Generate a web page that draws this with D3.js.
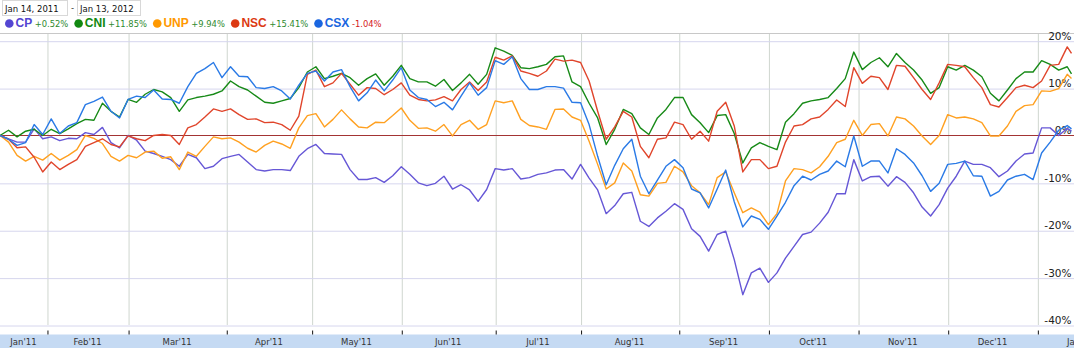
<!DOCTYPE html>
<html>
<head>
<meta charset="utf-8">
<script src="https://cdn.jsdelivr.net/npm/d3@7"></script>
<style>
body { margin: 0; background: #fff; }
svg { display: block; }
</style>
</head>
<body>
<svg id="chart" width="1074" height="348"></svg>
<script>
// period shown and the trading calendar
const startDate = "2011-01-14";
const endDate = "2012-01-13";
const holidays = ["2011-01-17", "2011-02-21", "2011-04-22", "2011-05-30", "2011-07-04",
    "2011-09-05", "2011-11-24", "2011-12-26", "2012-01-02", "2012-01-16"];
const dateLabels = ["Jan 14, 2011", "Jan 13, 2012"];

const tickers = ["CP", "CNI", "UNP", "NSC", "CSX"];
const changes = ["+0.52%", "+11.85%", "+9.94%", "+15.41%", "-1.04%"];
const yTicks = [20, 10, 0, -10, -20, -30, -40];

// % change since start, read every 2nd trading day (plus the last one)
const cpValues = [
    0, -0.7, -1.4, -1.4, 1.4, -0.7, -0.3, -1.1, -0.6, -0.7, 0.6, 0.2, 1.7, -1.5, -2.6, 0, -1.0, -3.3, -3.8, -4.4, -5.1, -6.5, -4.0, -4.7, -7.0, -6.5, -4.9, -4.4, -4.0, -5.6, -7.2, -7.5,
    -7.2, -7.2, -7.4, -4.4, -2.8, -1.9, -3.8, -3.9, -4.0, -7.2, -9.3, -9.3, -8.9, -9.9, -8.5, -6.6, -8.2, -10.0, -10.6, -10.1, -8.6, -11.3, -10.4, -11.5, -13.9, -11.4, -7.0, -7.3, -7.0, -9.2, -8.9, -8.2,
    -7.9, -7.3, -7.2, -9.2, -6.1, -9.0, -11.5, -16.5, -14.8, -12.3, -12.0, -18.1, -19.2, -17.4, -16.0, -14.4, -15.6, -19.7, -21.3, -24.4, -20.9, -20.2, -26.2, -33.6, -29.0, -28.0, -31.0, -29.0, -25.9, -23.4, -20.9,
    -20.4, -18.5, -16.2, -12.3, -12.3, -5.1, -9.6, -8.7, -8.6, -10.7, -8.7, -9.9, -12.1, -15.1, -17.0, -14.6, -11.1, -8.6, -5.4, -6.1, -6.1, -6.8, -8.7, -7.5, -5.4, -3.9, -3.7, 1.6, 1.6, 0, 1.5, 0.9
];
const cniValues = [
    0, 1.1, -0.3, 0.9, 1.3, 0, 1.3, 0.4, 1.4, 2.5, 3.4, 3.2, 6.8, 5.1, 3.9, 7.6, 7.0, 8.7, 9.7, 9.2, 8.0, 5.1, 7.5, 8.0, 8.3, 8.7, 9.4, 11.5, 10.3, 9.6, 8.3, 7.0,
    6.8, 7.3, 7.8, 10.1, 13.4, 14.5, 12.0, 12.5, 13.1, 12.2, 10.6, 12.0, 13.0, 10.6, 12.5, 14.8, 12.0, 11.3, 11.3, 10.4, 11.8, 9.5, 11.1, 12.9, 10.8, 12.9, 18.5, 17.8, 16.9, 14.3, 14.1, 14.5,
    15.0, 16.6, 16.8, 11.3, 10.3, 6.8, 3.7, -1.9, 1.3, 5.5, 4.6, 1.6, 0.2, 3.7, 5.5, 8.0, 8.0, 4.4, 2.7, 0.6, 4.2, 4.4, 0.4, -5.8, -2.6, -1.5, -2.3, -3.0, 2.8, 4.6, 6.8,
    7.3, 7.6, 8.0, 9.9, 12.0, 17.6, 13.9, 15.4, 16.4, 14.5, 17.3, 15.4, 13.8, 11.7, 8.9, 10.1, 14.5, 13.8, 14.8, 13.8, 12.4, 8.9, 7.3, 9.6, 12.0, 13.4, 13.4, 15.8, 15.0, 13.8, 14.5, 13.0
];
const unpValues = [
    0, -1.4, -4.2, -5.4, -4.4, -5.2, -3.8, -5.2, -4.2, -3.0, 0, -0.6, -1.7, -4.4, -5.4, -4.2, -4.7, -3.5, -3.3, -4.8, -4.5, -7.2, -3.5, -4.4, -2.3, -0.3, -0.7, -0.5, -1.4, -2.7, -3.5, -2.1,
    -1.2, -1.8, -2.7, 1.6, 4.2, 4.6, 1.8, 3.4, 5.4, 3.5, 1.8, 1.6, 2.8, 2.7, 4.2, 5.8, 3.2, 1.5, 1.6, 0.9, 2.3, -0.1, 2.3, 3.2, 1.3, 2.3, 7.3, 6.9, 7.3, 3.4, 2.1, 1.8,
    1.3, 5.5, 5.6, 3.9, 3.2, -1.2, -6.1, -11.3, -10.0, -5.8, -7.5, -12.5, -12.8, -10.1, -9.9, -6.5, -7.7, -10.6, -12.1, -14.6, -8.9, -7.7, -12.1, -16.3, -15.3, -16.2, -18.8, -16.5, -9.6, -7.0, -7.2,
    -7.9, -6.6, -4.4, -1.5, -0.8, 3.2, 0, 2.3, 2.5, -0.1, 3.9, 3.5, 2.0, -0.1, -1.9, 0, 4.4, 3.7, 3.9, 3.5, 2.7, -0.1, -0.1, 2.0, 5.1, 6.3, 6.5, 9.4, 9.3, 9.9, 12.9, 12.0
];
const nscValues = [
    0, -0.8, -2.6, -2.4, -4.6, -7.7, -5.6, -7.2, -6.1, -5.1, -2.3, -1.5, -0.7, -1.9, -2.4, -0.1, -0.7, -1.1, 0, 0.2, 0, -1.9, 1.6, 2.3, 3.9, 5.6, 5.1, 5.6, 4.4, 3.4, 3.5, 2.7,
    2.8, 2.3, 1.1, 4.1, 12.9, 13.8, 10.3, 11.1, 13.1, 10.8, 8.5, 10.1, 9.9, 8.6, 9.7, 11.1, 8.5, 7.6, 7.3, 7.5, 8.2, 7.3, 9.7, 11.3, 9.5, 11.3, 16.5, 15.9, 16.8, 13.6, 13.1, 12.5,
    13.6, 16.1, 15.7, 15.9, 15.4, 11.5, 5.1, -0.8, 1.8, 5.1, 3.9, -2.3, -4.7, -0.8, -0.5, 2.8, 2.3, -0.8, 0.9, -1.2, 5.1, 7.0, 2.0, -7.7, -5.1, -5.1, -7.0, -6.5, -1.4, 2.0, 2.3,
    3.5, 3.9, 5.5, 7.5, 6.1, 14.3, 11.0, 12.5, 12.2, 9.7, 14.8, 14.6, 12.2, 9.7, 7.6, 11.1, 15.0, 14.8, 14.5, 12.2, 10.1, 6.5, 6.0, 8.0, 10.1, 10.6, 10.1, 11.5, 14.8, 15.0, 18.7, 17.3
];
const csxValues = [
    0, -0.8, -2.1, -1.5, 2.3, 0.2, 3.5, 0.4, 2.0, 2.7, 6.5, 7.2, 8.1, 5.1, 3.7, 7.6, 8.3, 8.0, 9.6, 7.7, 7.6, 6.8, 10.3, 13.1, 14.1, 15.4, 12.2, 14.5, 12.5, 12.4, 10.1, 9.9,
    10.3, 9.4, 7.7, 10.6, 13.1, 13.6, 11.5, 13.4, 13.9, 10.3, 7.3, 9.0, 11.7, 9.4, 11.7, 14.3, 9.6, 8.0, 7.6, 6.1, 7.0, 5.4, 8.3, 11.1, 8.5, 10.1, 15.8, 15.0, 16.6, 12.0, 9.7, 9.7,
    10.3, 10.3, 10.0, 7.0, 6.9, 2.3, -4.4, -10.4, -6.3, -2.8, -0.8, -8.6, -12.3, -9.4, -6.5, -5.1, -6.8, -11.3, -12.1, -15.3, -11.3, -7.3, -14.0, -19.3, -17.0, -17.7, -19.8, -17.0, -14.1, -10.6, -8.6,
    -9.4, -8.2, -7.5, -5.4, -6.6, -0.1, -6.5, -5.4, -5.4, -7.9, -2.8, -4.0, -5.8, -8.5, -11.8, -10.1, -6.1, -5.9, -5.4, -8.5, -8.6, -12.8, -11.8, -9.4, -8.6, -8.2, -9.3, -3.7, -1.4, 1.1, 2.1, 1.4
];

const seriesValues = [cpValues, cniValues, unpValues, nscValues, csxValues];
const lineColors = ["#6657d6", "#178a17", "#ffa020", "#e0452b", "#2a7ae6"];
const nameColors = ["#5446d2", "#118811", "#ff9900", "#dc3912", "#1a66e0"];

const width = 1074;
const fmt = d3.timeFormat("%Y-%m-%d");

// trading days (weekdays minus exchange holidays), a bit wider than the period for month labels
const allDays = d3.timeDay.range(new Date(2011, 0, 3), new Date(2012, 1, 2))
    .filter(d => d.getDay() !== 0 && d.getDay() !== 6 && !holidays.includes(fmt(d)));
const startIdx = allDays.findIndex(d => fmt(d) === startDate);
const endIdx = allDays.findIndex(d => fmt(d) === endDate);
const lastDay = endIdx - startIdx;
const dayIndex = date => allDays.findIndex(d => d >= date) - startIdx;

const sampleDays = d3.range(0, lastDay + 1, 2);
if (sampleDays[sampleDays.length - 1] !== lastDay) sampleDays.push(lastDay);

const svg = d3.select("#chart");
const plotTop = 34, plotBottom = 325;

const x = d3.scaleLinear().domain([0, lastDay]).range([0, 1071.5]);
const y = d3.scaleLinear().domain([-40, 20]).range([plotBottom, 40.7]);

// header: date range boxes
const header = svg.append("g");
[[2.5, 65], [77.5, 63]].forEach(([bx, bw], i) => {
    header.append("rect")
        .attr("x", bx).attr("y", 0.5).attr("width", bw).attr("height", 15)
        .attr("fill", "#fff").attr("stroke", "#d8d8d8");
    header.append("text")
        .attr("x", bx + 2.5).attr("y", 11.5)
        .style("font", "8.5px 'DejaVu Sans'").attr("fill", "#111")
        .text(dateLabels[i]);
});
header.append("text")
    .attr("x", 72.5).attr("y", 11)
    .attr("text-anchor", "middle")
    .style("font", "8.5px 'DejaVu Sans'").attr("fill", "#333")
    .text("-");

// legend
const legend = svg.append("g");
let lx = 5;
tickers.forEach((t, i) => {
    legend.append("circle")
        .attr("cx", lx + 4.3).attr("cy", 23.5).attr("r", 4.3)
        .attr("fill", nameColors[i]);
    const name = legend.append("text")
        .attr("x", lx + 10.5).attr("y", 27)
        .style("font", "bold 12px 'Liberation Sans'")
        .attr("fill", nameColors[i])
        .text(t);
    const nx = lx + 10.5 + name.node().getComputedTextLength() + 2.5;
    const pct = legend.append("text")
        .attr("x", nx).attr("y", 27)
        .style("font", "8.4px 'DejaVu Sans'")
        .attr("fill", changes[i].startsWith("-") ? "#d42020" : "#2f8a2f")
        .text(changes[i]);
    lx = nx + pct.node().getComputedTextLength() + 6;
});

// top border
svg.append("line")
    .attr("x1", 0).attr("x2", width).attr("y1", plotTop - 0.5).attr("y2", plotTop - 0.5)
    .attr("stroke", "#c8c8c8");

// month boundaries
const monthStarts = d3.timeMonth.range(new Date(2011, 1, 1), new Date(2012, 1, 1)).map(dayIndex);
const months = d3.timeMonth.range(new Date(2011, 0, 1), new Date(2012, 1, 1));
const monthBounds = d3.timeMonth.range(new Date(2011, 0, 1), new Date(2012, 2, 1))
    .map(d => Math.max(0, dayIndex(d)));

// vertical grid lines
svg.append("g")
    .attr("transform", `translate(0, ${plotBottom})`)
    .call(d3.axisBottom(x).tickValues(monthStarts).tickSize(-(plotBottom - plotTop)).tickFormat(""))
    .call(g => g.select(".domain").remove())
    .call(g => g.selectAll(".tick line").attr("stroke", "#cfd6cf").attr("transform", "translate(0.5,0)"));

// horizontal grid lines and % labels on the right
svg.append("g")
    .attr("transform", `translate(${width}, 0)`)
    .call(d3.axisLeft(y).tickValues(yTicks).tickSize(width).tickPadding(3).tickFormat(d => d + "%"))
    .call(g => g.select(".domain").remove())
    .call(g => g.selectAll(".tick line")
        .attr("stroke", d => d === 0 ? "none" : "#d6d6ee")
        .attr("transform", "translate(0,0.5)"))
    .call(g => g.selectAll(".tick text")
        .attr("x", -2.5).attr("dy", "-0.15em")
        .style("font", "10.5px 'DejaVu Sans'").attr("fill", "#222"));

// bottom band with month ticks and labels
svg.append("rect")
    .attr("x", 0).attr("y", 334.5).attr("width", width).attr("height", 348 - 334.5)
    .attr("fill", "#c5daf3");

svg.append("g")
    .attr("transform", "translate(0, 334.5)")
    .call(d3.axisTop(x).tickValues(monthStarts).tickSize(4).tickFormat(""))
    .call(g => g.select(".domain").remove())
    .call(g => g.selectAll(".tick line").attr("stroke", "#111").attr("transform", "translate(0.5,0)"));

svg.append("g")
    .selectAll("text")
    .data(months)
    .join("text")
    .attr("x", (d, i) => (x(monthBounds[i]) + x(monthBounds[i + 1])) / 2)
    .attr("y", 345)
    .attr("text-anchor", "middle")
    .style("font", "8.5px 'DejaVu Sans'")
    .attr("fill", "#333")
    .text(d3.timeFormat("%b'%y"));

// zero line
svg.append("line")
    .attr("x1", 0).attr("x2", width)
    .attr("y1", Math.round(y(0)) + 0.5).attr("y2", Math.round(y(0)) + 0.5)
    .attr("stroke", "#a33434").attr("stroke-width", 1);

// series lines
const line = d3.line()
    .x((d, i) => x(sampleDays[i]))
    .y(d => y(d));

svg.append("g")
    .selectAll("path")
    .data(seriesValues)
    .join("path")
    .attr("d", line)
    .attr("fill", "none")
    .attr("stroke", (d, i) => lineColors[i])
    .attr("stroke-width", 1.4)
    .attr("stroke-linejoin", "round");
</script>
</body>
</html>
